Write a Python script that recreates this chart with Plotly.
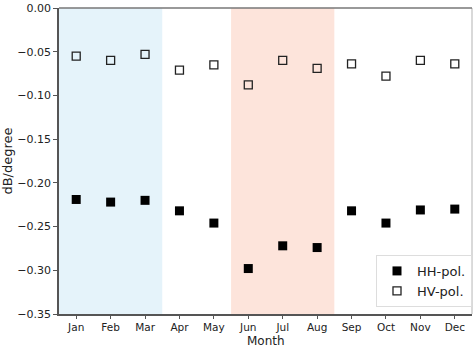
import plotly.graph_objects as go

months = ["Jan", "Feb", "Mar", "Apr", "May", "Jun", "Jul", "Aug", "Sep", "Oct", "Nov", "Dec"]
hh_pol = [-0.219, -0.222, -0.220, -0.232, -0.246, -0.298, -0.272, -0.274, -0.232, -0.246, -0.231, -0.230]
hv_pol = [-0.055, -0.060, -0.053, -0.071, -0.065, -0.088, -0.060, -0.069, -0.064, -0.078, -0.060, -0.064]
y_ticks = [0.00, -0.05, -0.10, -0.15, -0.20, -0.25, -0.30, -0.35]

x = list(range(len(months)))
font = "DejaVu Sans, Liberation Sans, sans-serif"

fig = go.Figure()
fig.add_trace(go.Scatter(x=x, y=hh_pol, mode="markers", name="HH-pol.",
                         marker=dict(symbol="square", size=9, color="black",
                                     line=dict(color="black", width=0))))
fig.add_trace(go.Scatter(x=x, y=hv_pol, mode="markers", name="HV-pol.",
                         marker=dict(symbol="square-open", size=8, color="#222222",
                                     line=dict(width=1.3))))

fig.add_vrect(x0=-0.5, x1=2.5, fillcolor="#e5f3fa", line_width=0, layer="below")
fig.add_vrect(x0=4.5, x1=7.5, fillcolor="#fde4db", line_width=0, layer="below")
# right spine (lighter)
fig.add_shape(type="line", xref="paper", yref="paper", x0=1, x1=1, y0=0, y1=1,
              line=dict(color="#cccccc", width=1.5))
# top spine
fig.add_shape(type="line", xref="paper", yref="paper", x0=0, x1=1, y0=1, y1=1,
              line=dict(color="#777777", width=1.5))

fig.add_annotation(text="Month", xref="paper", yref="paper", x=0.5, y=0,
                   xanchor="center", yanchor="middle", yshift=-27, showarrow=False,
                   borderpad=0, font=dict(size=12, color="#222222"))

fig.update_layout(
    width=474, height=348,
    margin=dict(l=58, r=2, t=6, b=34),
    paper_bgcolor="white", plot_bgcolor="white",
    font=dict(family=font, size=11, color="#222222"),
    showlegend=True,
    legend=dict(x=1.0, y=0.023, xanchor="right", yanchor="bottom",
                bgcolor="rgba(255,255,255,0.85)", bordercolor="#dddddd", borderwidth=1,
                font=dict(size=13), itemwidth=30, tracegroupgap=2),
    xaxis=dict(range=[-0.5, 11.5], tickmode="array", tickvals=x, ticktext=months,
               tickfont=dict(size=10.5),
               showgrid=False, zeroline=False, showline=True, linecolor="#555555", linewidth=1.5,
               ticks="outside", ticklen=3, tickcolor="#555555"),
    yaxis=dict(range=[-0.35, 0.0], tickmode="array", tickvals=y_ticks,
               ticktext=[f"{v:.2f}".replace("-", "\u2212") for v in y_ticks],
               ticklabeloverflow="allow",
               showgrid=False, zeroline=False, showline=True, linecolor="#555555", linewidth=1.5,
               ticks="outside", ticklen=4, tickcolor="#555555",
               title=dict(text="dB/degree", font=dict(size=13), standoff=6)),
)

fig.write_html("out.html")
